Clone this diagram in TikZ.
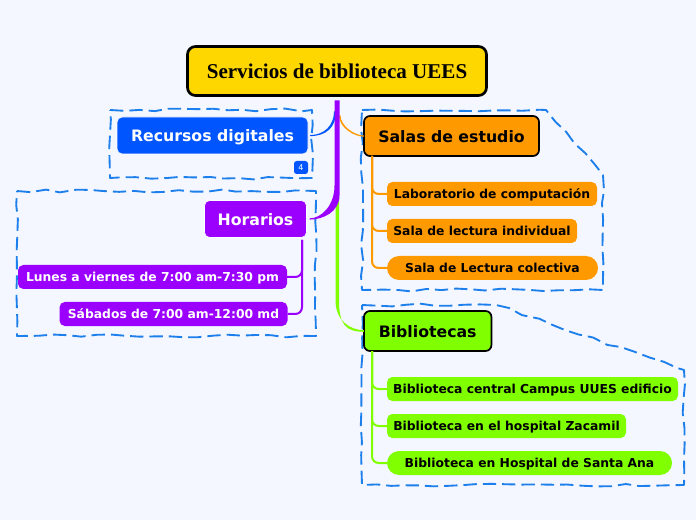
\documentclass[tikz,border=0pt]{standalone}
\usepackage{fontspec}
\setmainfont{DejaVu Sans}
\newfontfamily\titlefont{Liberation Serif}
\usetikzlibrary{decorations.pathmorphing}
\definecolor{bgc}{HTML}{F4F7FF}
\definecolor{rootc}{HTML}{FFD700}
\definecolor{bluec}{HTML}{0055FF}
\definecolor{purplec}{HTML}{9B00FF}
\definecolor{orangec}{HTML}{FF9900}
\definecolor{greenc}{HTML}{80FF00}
\definecolor{boundc}{HTML}{1C7FEB}
\tikzset{
  x=0.75pt,y=-0.75pt,
  sz/.style 2 args={minimum width=#1*0.75pt,minimum height=#2*0.75pt,inner sep=0pt,outer sep=0pt},
  rootbox/.style={draw=black,line width=2pt,fill=rootc,rounded corners=6pt,text height=11pt,text depth=0pt,font=\titlefont\bfseries\fontsize{15.8pt}{18pt}\selectfont},
  mainbox/.style={fill=#1,rounded corners=4pt,draw=white,line width=0.4pt,text=white,text height=9.6pt,text depth=0pt,font=\bfseries\fontsize{11.8pt}{14pt}\selectfont},
  topicbox/.style={fill=#1,rounded corners=4.5pt,draw=black,line width=1.3pt,text=black,text height=9.6pt,text depth=0pt,font=\bfseries\fontsize{11.8pt}{14pt}\selectfont},
  subbox/.style={fill=#1,rounded corners=4pt,text=black,text height=7.4pt,text depth=0pt,font=\bfseries\fontsize{9.25pt}{12pt}\selectfont},
  pillbox/.style={subbox=#1,rounded corners=9pt},
  whitesub/.style={text=white},
  bound/.style={draw=boundc,line width=1.4pt,dash pattern=on 10pt off 4.5pt,line join=round,
    decorate,decoration={random steps,segment length=11pt,amplitude=1.1pt}},
  twig/.style={draw=#1,line width=1.5pt,rounded corners=5pt},
}
\begin{document}
\begin{tikzpicture}
\useasboundingbox (0,0) rectangle (696,520);
\fill[bgc] (0,0) rectangle (696,520);
\pgfmathsetseed{42}
% boundaries
\draw[bound] (110,110) -- (312,110) -- (312,178) -- (110,178) -- (110,110);
\draw[bound] (17,191) -- (316,191) -- (316,336) -- (17,336) -- (17,191);
\draw[bound] (362,110) -- (546,110) -- (603,175) -- (603,290) -- (362,290) -- (362,110);
\draw[bound] (362,305) -- (496,305) -- (684,370) -- (684,485) -- (362,485) -- (362,305);
% nodes
\node[rootbox,sz={299}{49}] (root) at (337,71) {Servicios de biblioteca UEES};
\node[mainbox=bluec,sz={191}{37}] (rec) at (212.5,135.5) {Recursos digitales};
\node[fill=bluec,rounded corners=2pt,text=white,sz={14}{13},font=\fontsize{6pt}{7pt}\selectfont] (badge) at (301,167.5) {4};
\node[mainbox=purplec,sz={102}{37}] (hor) at (255.5,219) {Horarios};
\node[subbox=purplec,whitesub,sz={269}{24}] (lun) at (152.5,277) {Lunes a viernes de 7:00 am-7:30 pm};
\node[subbox=purplec,whitesub,sz={228}{24}] (sab) at (173.5,314) {Sábados de 7:00 am-12:00 md};
\node[topicbox=orangec,sz={175}{40}] (sal) at (451.5,136) {Salas de estudio};
\node[subbox=orangec,sz={210}{24}] (lab) at (492,194) {Laboratorio de computación};
\node[subbox=orangec,sz={190}{24}] (ind) at (482,231) {Sala de lectura individual};
\node[pillbox=orangec,sz={211}{24}] (col) at (492.5,268) {Sala de Lectura colectiva};
\node[topicbox=greenc,sz={127.5}{40}] (bib) at (427.7,331) {Bibliotecas};
\node[subbox=greenc,sz={291}{24}] (cen) at (532.5,389) {Biblioteca central Campus UUES edificio};
\node[subbox=greenc,sz={239}{24}] (zac) at (506.5,426) {Biblioteca en el hospital Zacamil};
\node[pillbox=greenc,sz={285}{24}] (ana) at (529.5,463) {Biblioteca en Hospital de Santa Ana};
% main connectors (tapered); root.south is at (337,96)
\fill[greenc] ([shift={(-1.5,100)}]root.south) -- ([shift={(-1.5,205)}]root.south)
  .. controls +(0,20) and +(-14,0) .. ([shift={(0,-0.8)}]bib.west)
  -- ([shift={(0,0.8)}]bib.west) .. controls +(-18,0) and +(0,24) .. ([shift={(2,205)}]root.south)
  -- ([shift={(2,100)}]root.south) -- cycle;
\fill[orangec] ([shift={(2,20)}]root.south) .. controls +(0,12) and +(-10,0) .. ([shift={(0,0.7)}]sal.west)
  -- ([shift={(0,-0.5)}]sal.west) .. controls +(-10,0) and +(0,10) .. ([shift={(3.5,20)}]root.south) -- cycle;
\fill[bluec] ([shift={(-1,16)}]root.south) .. controls +(0,16) and +(16,0) .. ([shift={(2,0.6)}]rec.east)
  -- ([shift={(2,-0.4)}]rec.east) .. controls +(14,0) and +(0,14) .. ([shift={(-3,16)}]root.south) -- cycle;
\fill[purplec] ([shift={(-2.5,5)}]root.south) -- ([shift={(-2.5,90)}]root.south)
  .. controls +(0,20) and +(12,0) .. ([shift={(3,-0.6)}]hor.east)
  -- ([shift={(3,0.6)}]hor.east) .. controls +(14,0) and +(0,16) .. ([shift={(2.5,100)}]root.south)
  -- ([shift={(2.5,5)}]root.south) -- cycle;
% child connectors
\coordinate (hb) at (302,240);
\coordinate (sb) at (372,156);
\coordinate (bb) at (372,351);
\draw[twig=purplec] (hb) |- (lun.east);
\draw[twig=purplec] (hb) |- (sab.east);
\draw[twig=orangec] (sb) |- (lab.west);
\draw[twig=orangec] (sb) |- (ind.west);
\draw[twig=orangec] (sb) |- (col.west);
\draw[twig=greenc] (bb) |- (cen.west);
\draw[twig=greenc] (bb) |- (zac.west);
\draw[twig=greenc] (bb) |- (ana.west);
\end{tikzpicture}
\end{document}
